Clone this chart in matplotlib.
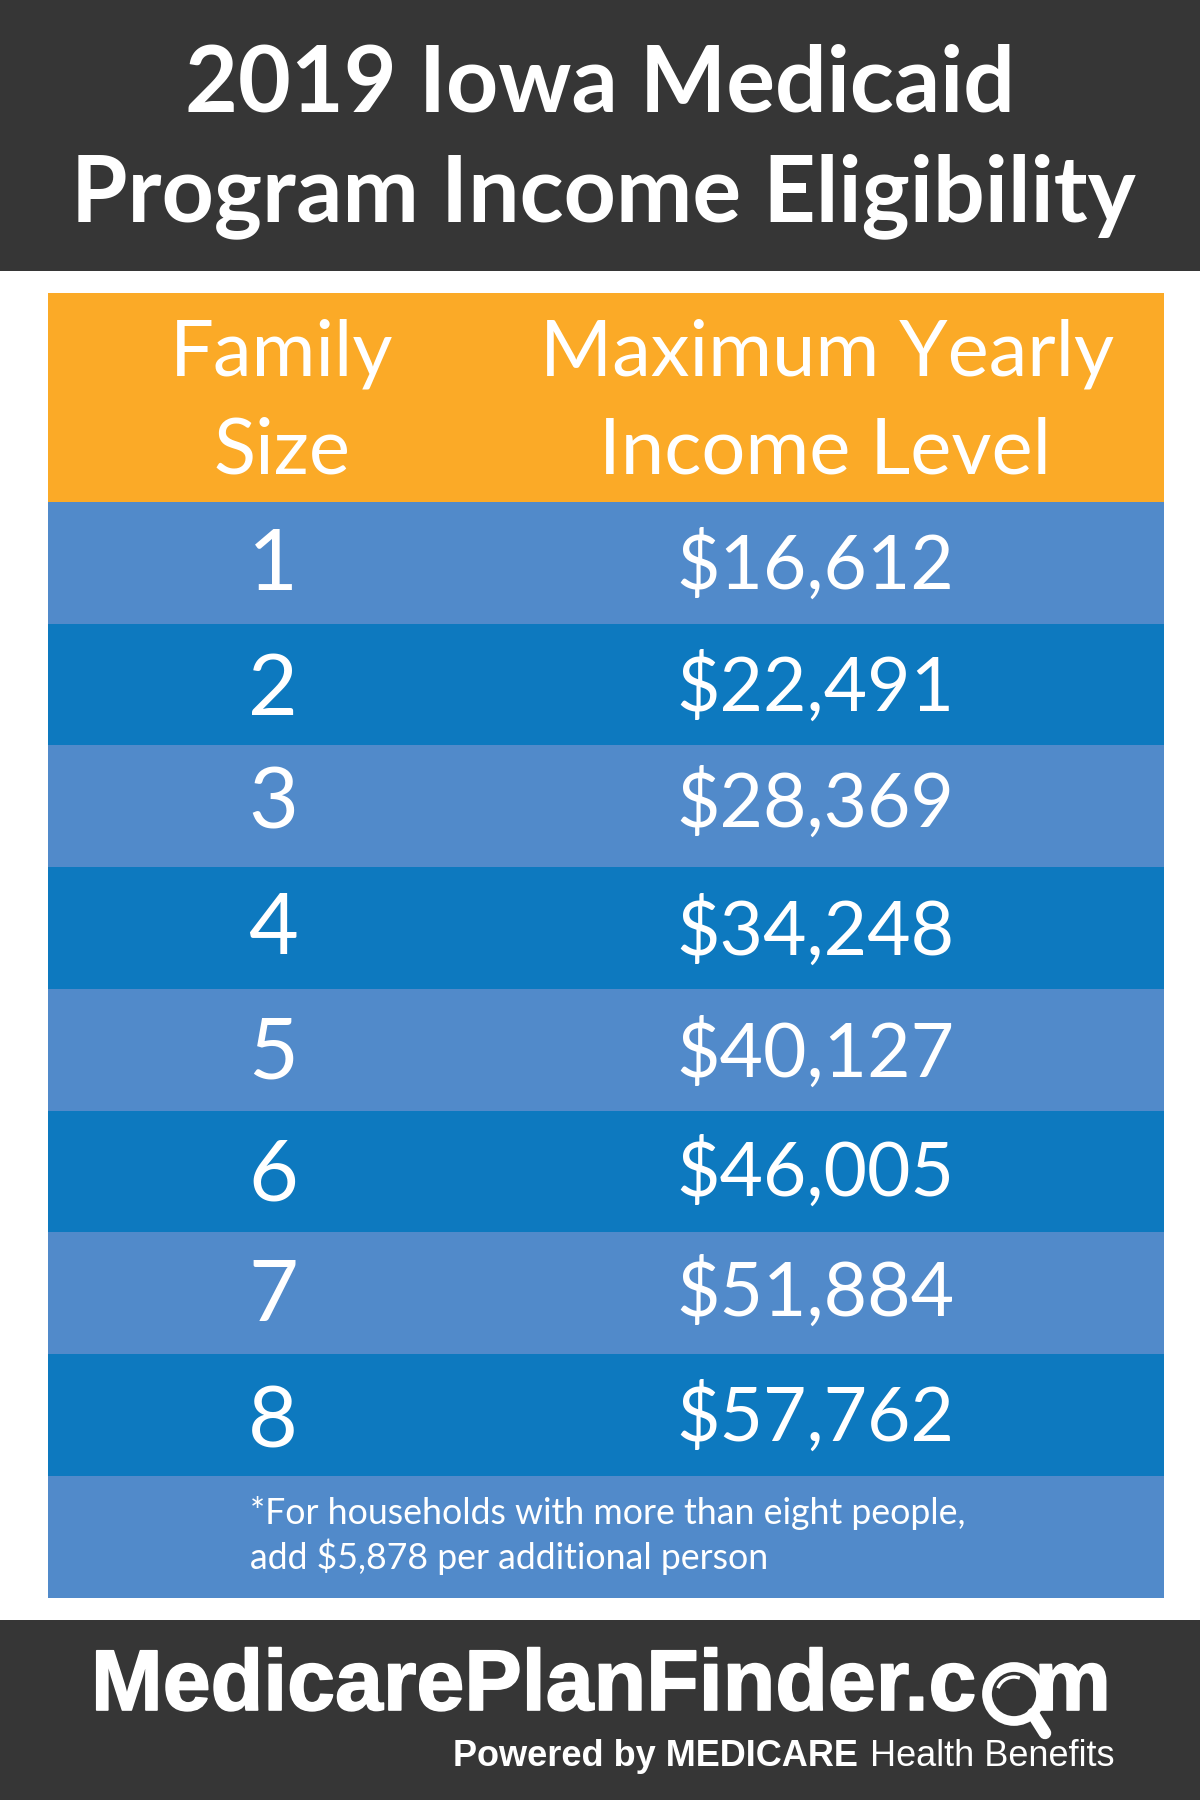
import matplotlib
matplotlib.use("Agg")
import matplotlib.pyplot as plt
from matplotlib.patches import Rectangle, Circle, Arc
import matplotlib.patheffects as pe

title_lines = ["2019 Iowa Medicaid", "Program Income Eligibility"]
header_left = ["Family", "Size"]
header_right = ["Maximum Yearly", "Income Level"]
family_sizes = ["1", "2", "3", "4", "5", "6", "7", "8"]
incomes = ["$16,612", "$22,491", "$28,369", "$34,248", "$40,127", "$46,005", "$51,884", "$57,762"]
note_lines = ["*For households with more than eight people,", "add $5,878 per additional person"]

DARK = "#363636"
ORANGE = "#FBAA27"
LIGHT = "#518ACA"
DEEP = "#0D79BF"
FONT = ["Lato", "Open Sans", "DejaVu Sans"]
LOGO = ["Liberation Sans", "DejaVu Sans"]

# small per-row vertical nudges of the hand-set labels in the original artwork
nudge_size = [3, 6, -2, 2, 5, 5, 4, 9]
nudge_income = [3, 3, -3, 4, 4, 1, 0, 3]

fig = plt.figure(figsize=(12, 18), dpi=100, facecolor="white")
ax = fig.add_axes([0, 0, 1, 1])
ax.set_xlim(0, 1200)
ax.set_ylim(1800, 0)
ax.axis("off")

def rect(x0, y0, x1, y1, c):
    ax.add_patch(Rectangle((x0, y0), x1 - x0, y1 - y0, facecolor=c, edgecolor="none"))

rect(0, 0, 1200, 271, DARK)
rect(0, 1620, 1200, 1800, DARK)
rect(48, 293, 1164, 502, ORANGE)

ax.text(600, 86, title_lines[0], ha="center", va="center", color="white", fontsize=65.7, fontweight="bold", family=FONT)
ax.text(603, 196, title_lines[1], ha="center", va="center", color="white", fontsize=65.7, fontweight="bold", family=FONT)

ax.text(282, 354, header_left[0], ha="center", va="center", color="white", fontsize=56, family=FONT)
ax.text(282, 452, header_left[1], ha="center", va="center", color="white", fontsize=56, family=FONT)
ax.text(827, 354, header_right[0], ha="center", va="center", color="white", fontsize=56, family=FONT)
ax.text(825, 452, header_right[1], ha="center", va="center", color="white", fontsize=56, family=FONT)

row_h = 121.7
top = 502
for i, (n, v) in enumerate(zip(family_sizes, incomes)):
    y0 = top + i * row_h
    rect(48, y0, 1164, y0 + row_h, LIGHT if i % 2 == 0 else DEEP)
    ax.text(273, y0 + row_h / 2 + nudge_size[i], n, ha="center", va="center", color="white", fontsize=62, family=FONT)
    ax.text(815, y0 + row_h / 2 + nudge_income[i], v, ha="center", va="center", color="white", fontsize=54, family=FONT)

y0 = top + 8 * row_h
rect(48, y0, 1164, 1598, LIGHT)
ax.text(250, 1513, note_lines[0], ha="left", va="center", color="white", fontsize=25.7, family=FONT)
ax.text(250, 1557, note_lines[1], ha="left", va="center", color="white", fontsize=25.7, family=FONT)

heavy = [pe.withStroke(linewidth=1.2, foreground="white")]
ax.text(91, 1688, "MedicarePlanFinder.c", ha="left", va="center", color="white", fontsize=62, fontweight="bold", family=LOGO, path_effects=heavy)
ax.text(1111, 1688, "m", ha="right", va="center", color="white", fontsize=62, fontweight="bold", family=LOGO, path_effects=heavy)
ax.add_patch(Circle((1014, 1694), 27, facecolor=DARK, edgecolor="white", lw=7, zorder=5))
ax.add_patch(Arc((1014, 1694), 34, 34, theta1=200, theta2=290, edgecolor="white", lw=2.5, zorder=6))
ax.plot([1033, 1045], [1714, 1733], color="white", lw=9, solid_capstyle="round", zorder=5)
ax.text(453, 1756, "Powered by MEDICARE", ha="left", va="center", color="white", fontsize=26, fontweight="bold", family=LOGO)
ax.text(1114, 1756, "Health Benefits", ha="right", va="center", color="white", fontsize=26, family=LOGO)

fig.savefig("out.png", dpi=100, facecolor="white")
